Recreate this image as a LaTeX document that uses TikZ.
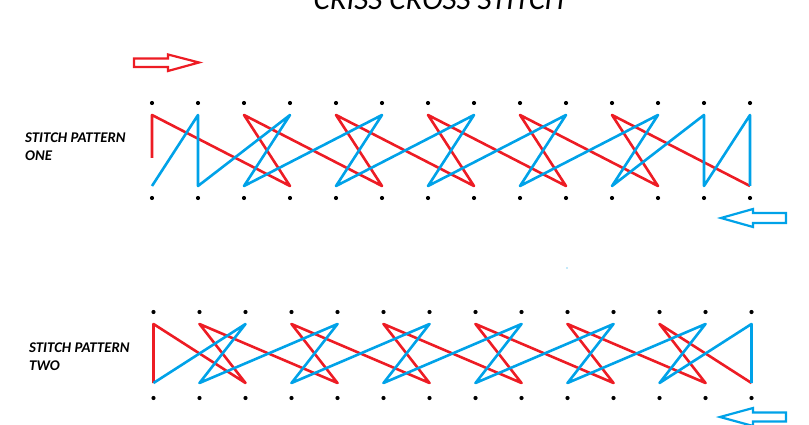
\documentclass[tikz,border=0pt]{standalone}
\usepackage{fontspec}
\setmainfont{Carlito}
\definecolor{pred}{RGB}{237,28,36}
\definecolor{pblue}{RGB}{0,162,232}
\begin{document}
\begin{tikzpicture}[x=1pt,y=-1pt,
  dot/.style={circle,fill=black,inner sep=0pt,minimum size=4.2pt},
  redthread/.style={pred,line width=2.6pt,line join=round},
  bluethread/.style={pblue,line width=2.6pt,line join=round},
  lbl/.style={font=\bfseries\itshape\fontsize{14.8}{18}\selectfont,align=left,anchor=north west,inner sep=0pt},
  hollowarrow/.style={line width=2.2pt,line join=miter}]
\useasboundingbox (0,0) rectangle (809,425);
\node[font=\itshape\fontsize{31}{33}\selectfont,anchor=base,inner sep=0pt] (title) at (439,10) {CRISS CROSS STITCH};
% pattern one
\foreach \i in {0,...,13} {
  \node[dot] (dA\i) at ({152+46*\i},103) {};
  \node[dot] (eA\i) at ({152+46*\i},198) {};
  \coordinate (tA\i) at ({152+46*\i},115);
  \coordinate (bA\i) at ({152+46*\i},186);
}
\coordinate (sA) at (152,158);
\draw[redthread] (sA) -- (tA0) -- (bA3) -- (tA2) -- (bA5) -- (tA4) -- (bA7) -- (tA6) -- (bA9) -- (tA8) -- (bA11) -- (tA10) -- (bA13);
\draw[bluethread] (bA0) -- (tA1) -- (bA1) -- (tA3) -- (bA2) -- (tA5) -- (bA4) -- (tA7) -- (bA6) -- (tA9) -- (bA8) -- (tA11) -- (bA10) -- (tA12) -- (bA12) -- (tA13) -- (bA13);
% pattern two
\foreach \i in {0,...,13} {
  \node[dot] (dB\i) at ({153.5+46*\i},312) {};
  \node[dot] (eB\i) at ({153.5+46*\i},398) {};
  \coordinate (tB\i) at ({153.5+46*\i},324);
  \coordinate (bB\i) at ({153.5+46*\i},383);
}
\draw[redthread] (bB0) -- (tB0) -- (bB2) -- (tB1) -- (bB4) -- (tB3) -- (bB6) -- (tB5) -- (bB8) -- (tB7) -- (bB10) -- (tB9) -- (bB12) -- (tB11) -- (bB13);
\draw[bluethread] (bB0) -- (tB2) -- (bB1) -- (tB4) -- (bB3) -- (tB6) -- (bB5) -- (tB8) -- (bB7) -- (tB10) -- (bB9) -- (tB12) -- (bB11) -- (tB13) -- (bB13);
% labels
\node[lbl] (lblone) at (25,133) {STITCH PATTERN\\ONE};
\node[lbl] (lbltwo) at (29,343) {STITCH PATTERN\\TWO};
% arrows
\draw[hollowarrow,pred] (134,58.5) -- (168,58.5) -- (168,54.5) -- (199,62.5) -- (168,71) -- (168,67) -- (134,67) -- cycle;
\draw[hollowarrow,pblue] (786,213) -- (753,213) -- (753,209) -- (721,218) -- (753,227) -- (753,223) -- (786,223) -- cycle;
\draw[hollowarrow,pblue] (786,412.5) -- (753,412.5) -- (753,408) -- (720,417) -- (753,426) -- (753,421.5) -- (786,421.5) -- cycle;
\fill[pblue] (567,268) circle (0.7);
\end{tikzpicture}
\end{document}
